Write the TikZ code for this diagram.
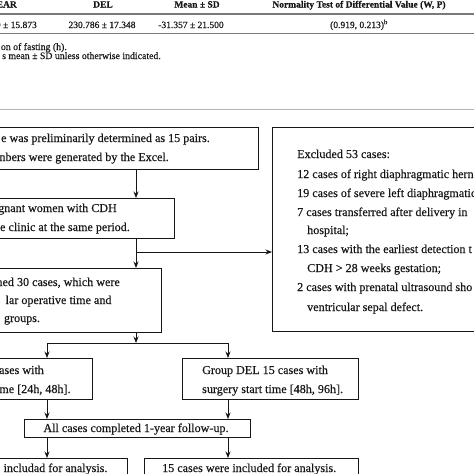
\documentclass[tikz,border=0pt]{standalone}
\usepackage{fontspec}
\setmainfont{Liberation Serif}[FakeBold=0.35]
\usetikzlibrary{arrows.meta}
\definecolor{ink}{HTML}{161616}
\definecolor{rule}{HTML}{7A7A7A}
\definecolor{lightrule}{HTML}{B4B4B4}
\newcommand{\flowfs}{\fontsize{12.1}{14}\selectfont}
\newcommand{\tabfs}{\fontsize{9.5}{11}\selectfont}
\newcommand{\notefs}{\fontsize{9.8}{11}\selectfont}
\tikzset{
  box/.style={draw=ink, line width=1.2pt, anchor=north west, inner sep=0pt},
  ftxt/.style={inner sep=0pt, text=ink, font=\flowfs},
  ttxt/.style={inner sep=0pt, text=ink, font=\tabfs, anchor=base},
  thead/.style={inner sep=0pt, text=ink, font=\tabfs\bfseries, anchor=base},
  ntxt/.style={inner sep=0pt, text=ink, font=\notefs, anchor=base east},
  arr/.style={draw=ink, line width=0.8pt, -{Stealth[length=6.5pt,width=5pt]}},
  ln/.style={draw=ink, line width=0.8pt},
  trule/.style={draw=rule, line width=1.6pt},
  lrule/.style={draw=lightrule, line width=0.8pt}
}
\begin{document}
\begin{tikzpicture}[x=1pt,y=-1pt]
\useasboundingbox (0,0) rectangle (474,474);
\clip (0,0) rectangle (474,474);
% table fragment
\node[thead, anchor=base east] (h1) at (17,7.5) {EAR};
\node[thead] (h2) at (103,7.5) {DEL};
\node[thead] (h3) at (197,7.5) {Mean ± SD};
\node[thead] (h4) at (359,7.5) {Normality Test of Differential Value (W, P)};
\draw[trule] (0,14) -- (474,14);
\node[ttxt, anchor=base east] (d1) at (37,28) {9 ± 15.873};
\node[ttxt] (d2) at (102,28) {230.786 ± 17.348};
\node[ttxt] (d3) at (191,28) {-31.357 ± 21.500};
\node[ttxt] (d4) at (359,28) {(0.919, 0.213)\textsuperscript{b}};
\draw[trule] (0,33.5) -- (474,33.5);
\node[ntxt] (n1) at (67,50) {on of fasting (h).};
\node[ntxt] (n2) at (161,59) {s mean ± SD unless otherwise indicated.};
\draw[lrule] (0,109) -- (474,109);
% boxes
\node[box, minimum width=268, minimum height=42] (b1) at (-10,127) {};
\node[box, minimum width=184, minimum height=40] (b2) at (-10,198) {};
\node[box, minimum width=171, minimum height=64] (b3) at (-10,268) {};
\node[box, minimum width=218, minimum height=204] (ex) at (272,127) {};
\node[box, minimum width=102, minimum height=41] (b4) at (-10,358) {};
\node[box, minimum width=176, minimum height=41] (b5) at (182,358) {};
\node[box, minimum width=226, minimum height=18] (b6) at (24,419) {};
\node[box, minimum width=137, minimum height=40] (b7) at (-10,458) {};
\node[box, minimum width=214, minimum height=40] (b8) at (144,458) {};
% texts
\node[ftxt, anchor=base east] (t1a) at (210,142) {e was preliminarily determined as 15 pairs.};
\node[ftxt, anchor=base east] (t1b) at (169,161) {nbers were generated by the Excel.};
\node[ftxt, anchor=base east] (t2a) at (117,212) {gnant women with CDH};
\node[ftxt, anchor=base east] (t2b) at (130,231) {e clinic at the same period.};
\node[ftxt, anchor=base east] (t3a) at (120,286) {ned 30 cases, which were};
\node[ftxt, anchor=base] (t3b) at (58.5,304) {lar operative time and};
\node[ftxt, anchor=base] (t3c) at (22,322) {groups.};
\node[ftxt, anchor=base west] (e1) at (297,158) {Excluded 53 cases:};
\node[ftxt, anchor=base west] (e2) at (297,178) {12 cases of right diaphragmatic hern};
\node[ftxt, anchor=base west] (e3) at (297,197) {19 cases of severe left diaphragmatic};
\node[ftxt, anchor=base west] (e4) at (297,216) {7 cases transferred after delivery in};
\node[ftxt, anchor=base west] (e5) at (307,234) {hospital;};
\node[ftxt, anchor=base west] (e6) at (297,253) {13 cases with the earliest detection t};
\node[ftxt, anchor=base west] (e7) at (307,272) {CDH > 28 weeks gestation;};
\node[ftxt, anchor=base west] (e8) at (297,291) {2 cases with prenatal ultrasound sho};
\node[ftxt, anchor=base west] (e9) at (307,311) {ventricular sepal defect.};
\node[ftxt, anchor=base] (t4a) at (21.5,374) {ases with};
\node[ftxt, anchor=base] (t4b) at (35,393) {me [24h, 48h].};
\node[ftxt, anchor=base west] (t5a) at (202,374) {Group DEL 15 cases with};
\node[ftxt, anchor=base west] (t5b) at (202,393) {surgery start time [48h, 96h].};
\node[ftxt, anchor=base] (t6) at (136,432) {All cases completed 1-year follow-up.};
\node[ftxt, anchor=base] (t7) at (55.5,472) {includad for analysis.};
\node[ftxt, anchor=base west] (t8) at (162,472) {15 cases were included for analysis.};
% connectors
\coordinate (c1) at (136,0);
\coordinate (cL) at (47,0);
\coordinate (cR) at (228,0);
\coordinate (j1) at (136,252);
\coordinate (j2) at (136,343);
\draw[arr] (b1.south -| c1) -- (b2.north -| c1);
\draw[arr] (b2.south -| c1) -- (b3.north -| c1);
\draw[arr] (j1) -- (j1 -| ex.west);
\draw[arr] (b3.south -| c1) -- (j2);
\draw[ln] (j2 -| cL) -- (j2 -| cR);
\draw[arr] (j2 -| cL) -- (b4.north -| cL);
\draw[arr] (j2 -| cR) -- (b5.north -| cR);
\draw[arr] (b4.south -| cL) -- (b6.north -| cL);
\draw[arr] (b5.south -| cR) -- (b6.north -| cR);
\draw[arr] (b6.south -| cL) -- (b7.north -| cL);
\draw[arr] (b6.south -| cR) -- (b8.north -| cR);
\end{tikzpicture}
\end{document}
